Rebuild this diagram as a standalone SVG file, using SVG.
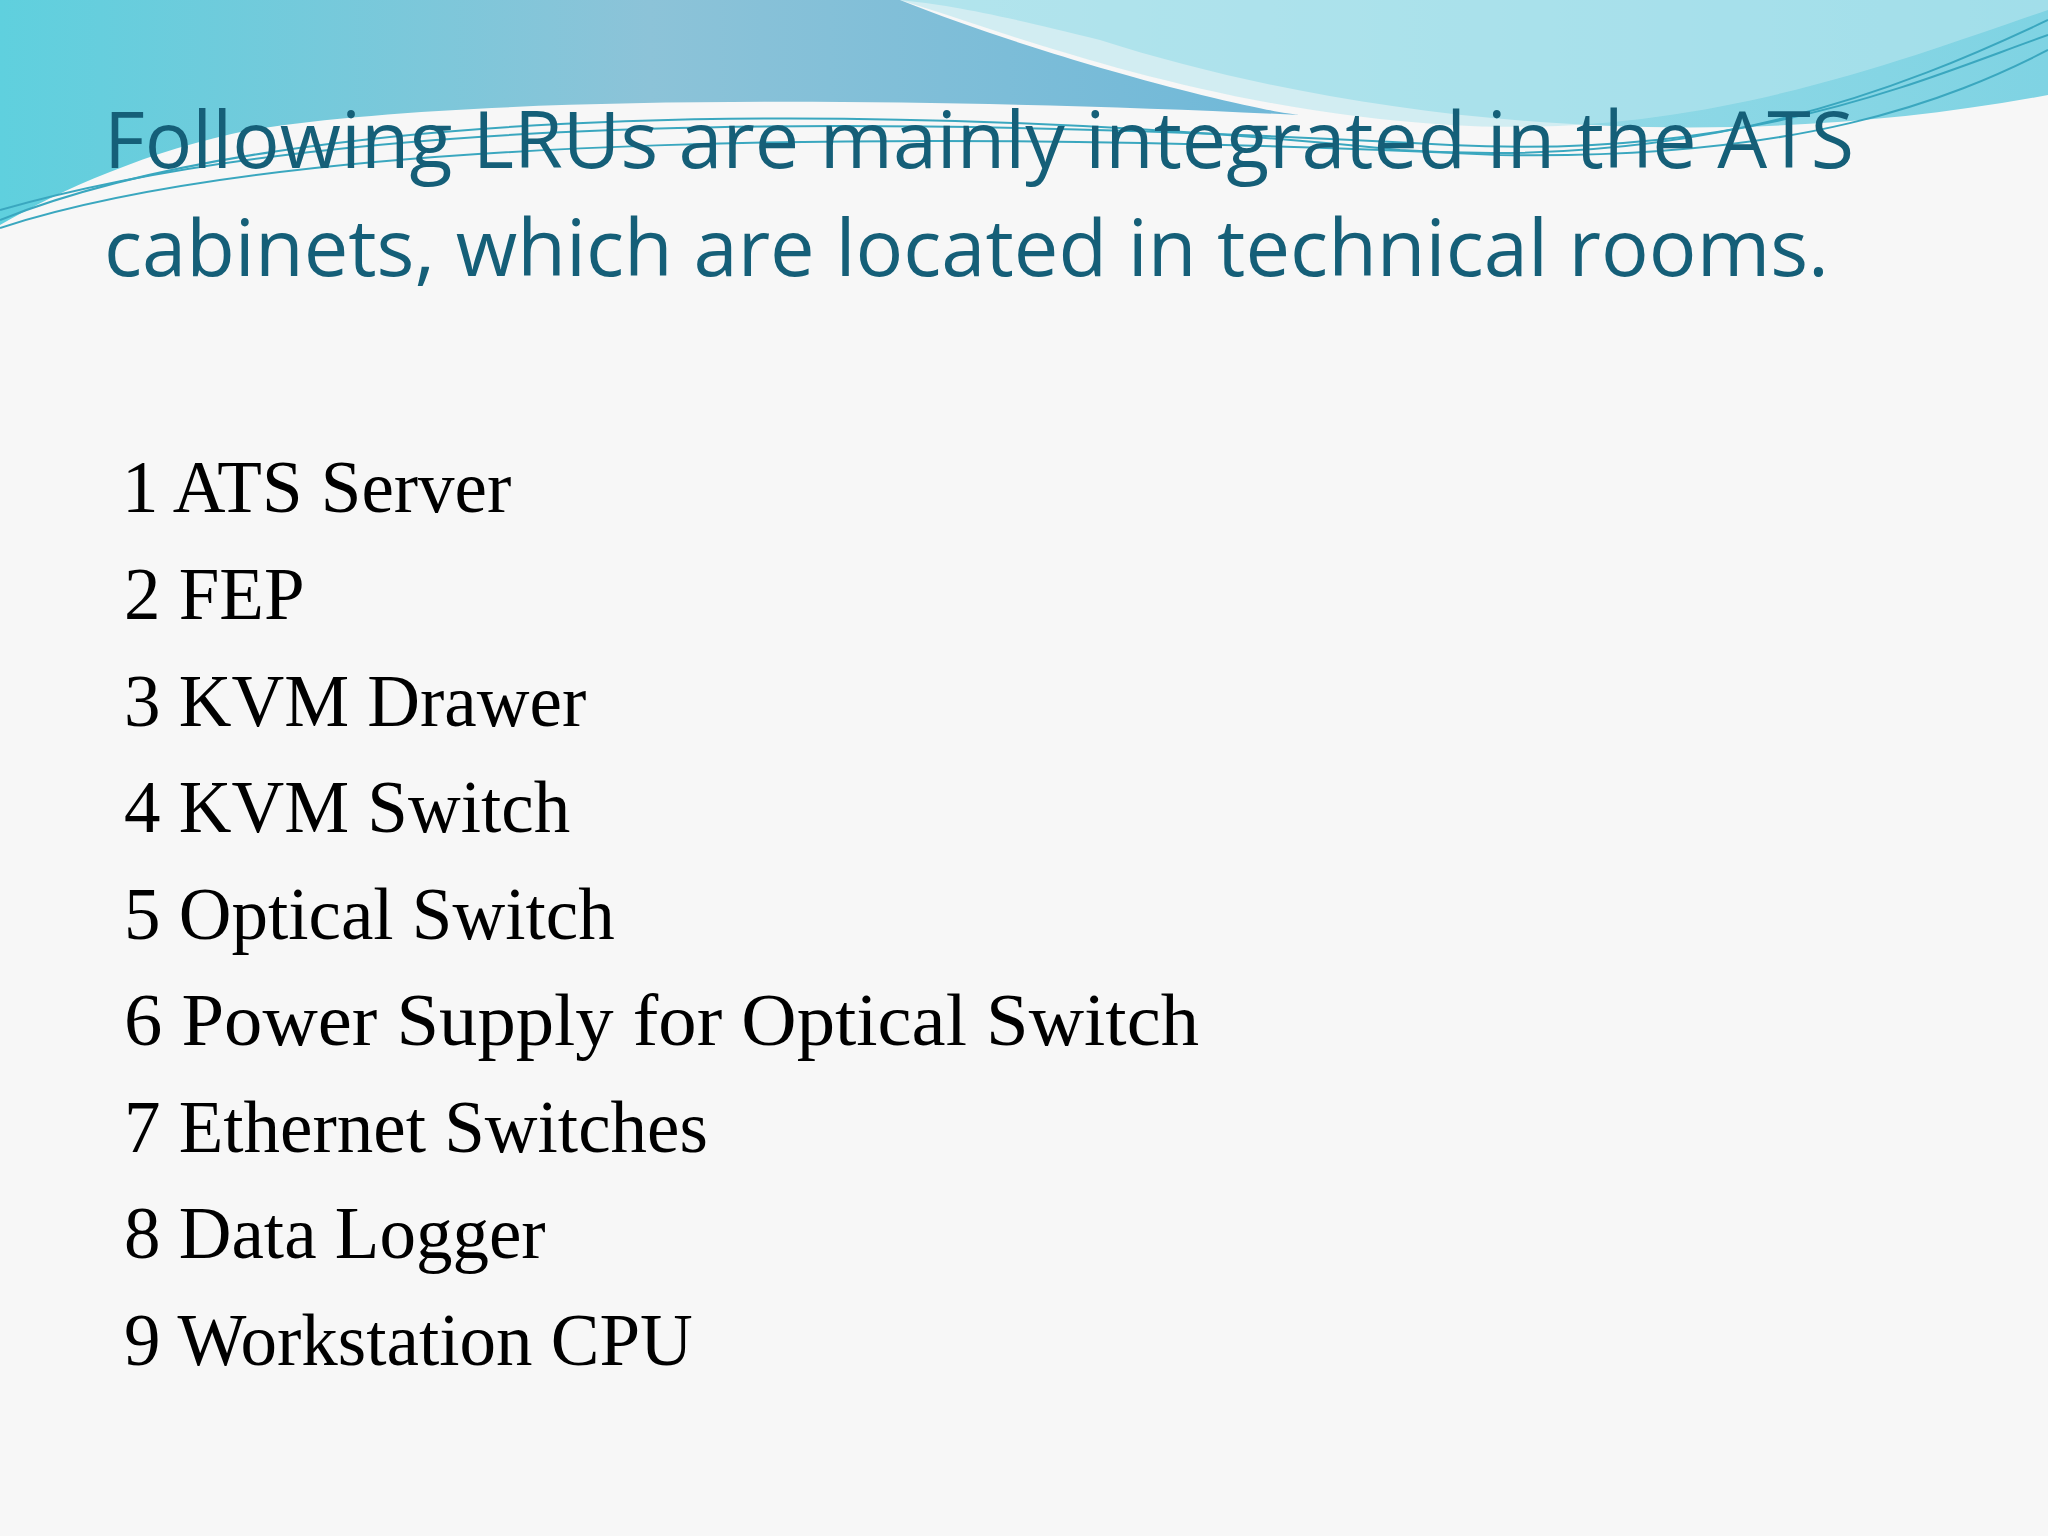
<svg xmlns="http://www.w3.org/2000/svg" width="2048" height="1536" viewBox="0 0 2048 1536">
<defs>
<linearGradient id="g1" x1="0" y1="0" x2="1" y2="0">
<stop offset="0" stop-color="#5fd0de"/><stop offset="0.5" stop-color="#8cc3d8"/><stop offset="1" stop-color="#6fb8d8"/>
</linearGradient>
<linearGradient id="g2" x1="0" y1="0" x2="1" y2="0">
<stop offset="0" stop-color="#c9ecf0"/><stop offset="1" stop-color="#7fd3e3"/>
</linearGradient>
<style>
.t{font-family:"Open Sans","Liberation Sans",sans-serif;font-size:78px;fill:#155f78}
.l{font-family:"Liberation Serif","DejaVu Serif",serif;font-size:73px;fill:#000}
.w{fill:none;stroke:#3aa7bf;stroke-width:2}
</style>
</defs>
<rect width="2048" height="1536" fill="#f7f7f7"/>
<path d="M0 0 H2048 V95 C1700 160 1350 120 1100 40 C1000 15 950 5 900 0 Z" fill="url(#g2)"/>
<path d="M0 0 H900 C1000 30 1200 110 1450 125 C1700 140 1900 60 2048 10 V0 Z" fill="#b9e6ee" opacity="0.6"/>
<path d="M0 0 H900 C1050 60 1250 110 1300 115 C1000 100 500 90 250 130 C150 150 60 190 0 225 Z" fill="url(#g1)"/>
<path class="w" d="M0 220 C300 100 900 100 1400 150 C1700 170 1900 90 2048 20"/>
<path class="w" d="M0 210 C350 110 900 115 1450 145 C1750 160 1920 80 2048 35"/>
<path class="w" d="M0 228 C300 130 950 130 1500 155 C1800 160 1950 100 2048 50"/>
<g id="title">
<text class="t" x="104" y="168" textLength="1750" lengthAdjust="spacingAndGlyphs">Following LRUs are mainly integrated in the ATS</text>
<text class="t" x="104" y="276" textLength="1725" lengthAdjust="spacingAndGlyphs">cabinets, which are located in technical rooms.</text>
</g>
<g id="list">
<text class="l" x="122" y="512">1 ATS Server</text>
<text class="l" x="124" y="619">2 FEP</text>
<text class="l" x="124" y="726">3 KVM Drawer</text>
<text class="l" x="124" y="832">4 KVM Switch</text>
<text class="l" x="124" y="939">5 Optical Switch</text>
<text class="l" x="124" y="1045" textLength="1075" lengthAdjust="spacingAndGlyphs">6 Power Supply for Optical Switch</text>
<text class="l" x="124" y="1152">7 Ethernet Switches</text>
<text class="l" x="124" y="1258">8 Data Logger</text>
<text class="l" x="124" y="1365">9 Workstation CPU</text>
</g>
</svg>
